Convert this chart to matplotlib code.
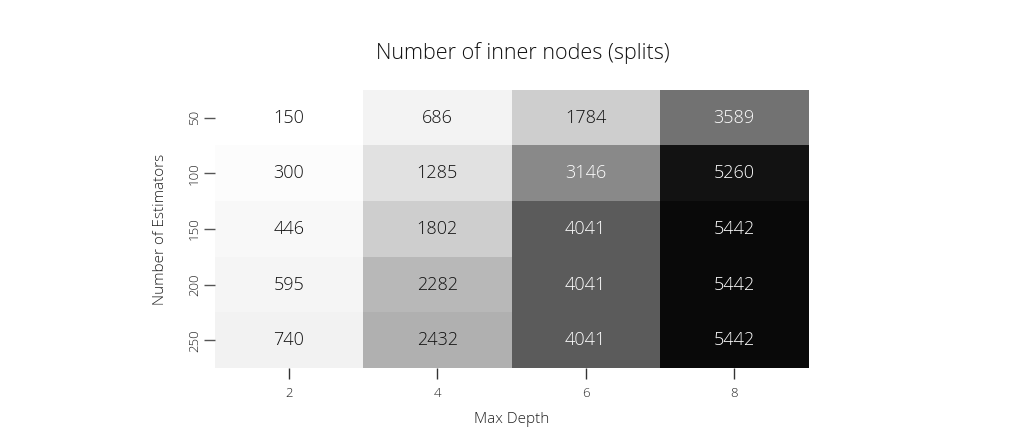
import matplotlib
matplotlib.use("Agg")
import matplotlib.pyplot as plt
from matplotlib.colors import ListedColormap
import numpy as np

plt.rcParams['font.family'] = ['Open Sans', 'DejaVu Sans']

max_depth = [2, 4, 6, 8]
n_estimators = [50, 100, 150, 200, 250]
row_50 = [150, 686, 1784, 3589]
row_100 = [300, 1285, 3146, 5260]
row_150 = [446, 1802, 4041, 5442]
row_200 = [595, 2282, 4041, 5442]
row_250 = [740, 2432, 4041, 5442]

title = "Number of inner nodes (splits)"
xlabel = "Max Depth"
ylabel = "Number of Estimators"

data = np.array([row_50, row_100, row_150, row_200, row_250], dtype=float)

fig = plt.figure(figsize=(10.23, 4.4), dpi=100)
ax = fig.add_axes([0.210, 0.1636, 0.580, 0.6318])

cmap = ListedColormap(plt.get_cmap('Greys')(np.linspace(0.0, 0.965, 256)))
vmin, vmax = data.min(), data.max()
ax.imshow(data, cmap=cmap, vmin=vmin, vmax=vmax, aspect='auto',
          interpolation='nearest')

for i in range(data.shape[0]):
    for j in range(data.shape[1]):
        v = data[i, j]
        frac = (v - vmin) / (vmax - vmin)
        color = 'white' if frac > 0.55 else '#111111'
        ax.text(j, i, f"{int(v)}", ha='center', va='center', fontsize=13,
                color=color, fontweight='light')

ax.set_xticks(range(len(max_depth)))
ax.set_xticklabels([str(d) for d in max_depth], fontsize=9.5, color='#222222',
                   fontweight='light')
ax.set_yticks(range(len(n_estimators)))
ax.set_yticklabels([str(n) for n in n_estimators], fontsize=9.5, color='#222222',
                   rotation=90, va='center', fontweight='light')
ax.tick_params(axis='x', length=8, width=1, color='#333333', pad=6)
ax.tick_params(axis='y', length=8, width=1, color='#555555', pad=2)

for s in ax.spines.values():
    s.set_visible(False)

ax.set_xlabel(xlabel, fontsize=11, color='#222222', labelpad=8, fontweight='light')
ax.set_ylabel(ylabel, fontsize=11, color='#222222', labelpad=14, fontweight='light')
fig.text(0.5115, 0.880, title, ha='center', va='center', fontsize=15.5,
         color='#111111', fontweight='light')

fig.savefig("out.png", dpi=100, facecolor='white')
